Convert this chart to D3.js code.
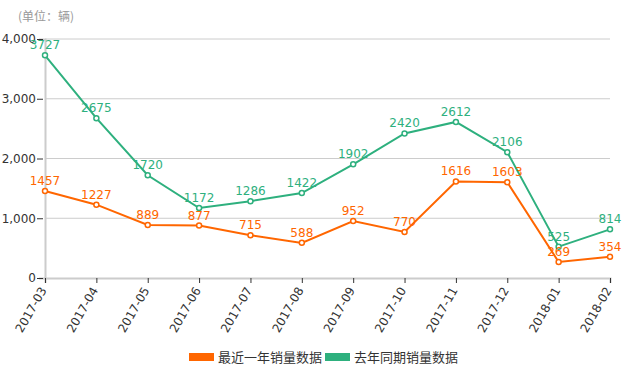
<!DOCTYPE html>
<html><head><meta charset="utf-8">
<script src="https://cdn.jsdelivr.net/npm/d3@7/dist/d3.min.js"></script>
<style>body{margin:0;background:#fff;font-family:"Noto Sans CJK SC","DejaVu Sans",sans-serif;}</style>
</head><body><svg id="c" width="639" height="381"></svg>
<script>
const months = ["2017-03","2017-04","2017-05","2017-06","2017-07","2017-08","2017-09","2017-10","2017-11","2017-12","2018-01","2018-02"];
const recentYear = [1457,1227,889,877,715,588,952,770,1616,1603,269,354];
const lastYear = [3727,2675,1720,1172,1286,1422,1902,2420,2612,2106,525,814];
const yTicks = [0,1000,2000,3000,4000];
const seriesNames = ["最近一年销量数据","去年同期销量数据"];
const colors = ["#ff6600","#2eb07e"];

const svg = d3.select("#c");
const x = d3.scalePoint().domain(months).range([45,610]);
const y = d3.scaleLinear().domain([0,4000]).range([278,39]);

// grid
svg.append("g").selectAll("line").data(yTicks.filter(d=>d>0)).join("line")
  .attr("x1",45).attr("x2",610).attr("y1",d=>y(d)).attr("y2",d=>y(d))
  .attr("stroke","#ccc").attr("stroke-width",1);

// y axis
const ya = svg.append("g").attr("transform","translate(45,0)")
  .call(d3.axisLeft(y).tickValues(yTicks).tickSize(6).tickPadding(3).tickFormat(d3.format(",")));
ya.select(".domain").attr("stroke","#ccc").attr("stroke-width",2);
ya.selectAll(".tick line").attr("stroke","#333").attr("transform","translate(-2,0)");
ya.selectAll("text").attr("fill","#333").attr("font-size",12).attr("font-family","DejaVu Sans, sans-serif").attr("x",-9);

// x axis
const xa = svg.append("g").attr("transform","translate(0,278)")
  .call(d3.axisBottom(x).tickSize(5).tickPadding(3));
xa.select(".domain").attr("stroke","#ccc").attr("stroke-width",2);
xa.selectAll(".tick line").attr("stroke","#333");
xa.selectAll("text").attr("fill","#333").attr("font-size",12).attr("font-family","DejaVu Sans, sans-serif")
  .attr("text-anchor","end").attr("dy","0.35em")
  .attr("transform","translate(-2,10) rotate(-60)").attr("y",0).attr("x",0);

// unit label
svg.append("text").attr("x",18).attr("y",21).attr("fill","#999").attr("font-size",12).text("(单位：辆)");

const line = d3.line().x((d,i)=>x(months[i])).y(d=>y(d));
[lastYear, recentYear].forEach((data,k)=>{
  const c = k===0 ? colors[1] : colors[0];
  svg.append("path").datum(data).attr("d",line).attr("fill","none").attr("stroke",c).attr("stroke-width",2);
  svg.append("g").selectAll("circle").data(data).join("circle")
    .attr("cx",(d,i)=>x(months[i])).attr("cy",d=>y(d)).attr("r",2.5)
    .attr("fill","#fff").attr("stroke",c).attr("stroke-width",1.5);
  svg.append("g").selectAll("text").data(data).join("text")
    .attr("x",(d,i)=>x(months[i])).attr("y",d=>y(d)-6)
    .attr("text-anchor","middle").attr("fill",c).attr("font-size",12)
    .attr("font-family","DejaVu Sans, sans-serif").text(d=>d);
});

// legend
const leg = [{x:189,name:seriesNames[0],c:colors[0]},{x:325,name:seriesNames[1],c:colors[1]}];
leg.forEach(l=>{
  svg.append("rect").attr("x",l.x).attr("y",353).attr("width",25).attr("height",8).attr("fill",l.c);
  svg.append("text").attr("x",l.x+29).attr("y",362).attr("font-size",13).attr("fill","#333").text(l.name);
});
</script></body></html>
